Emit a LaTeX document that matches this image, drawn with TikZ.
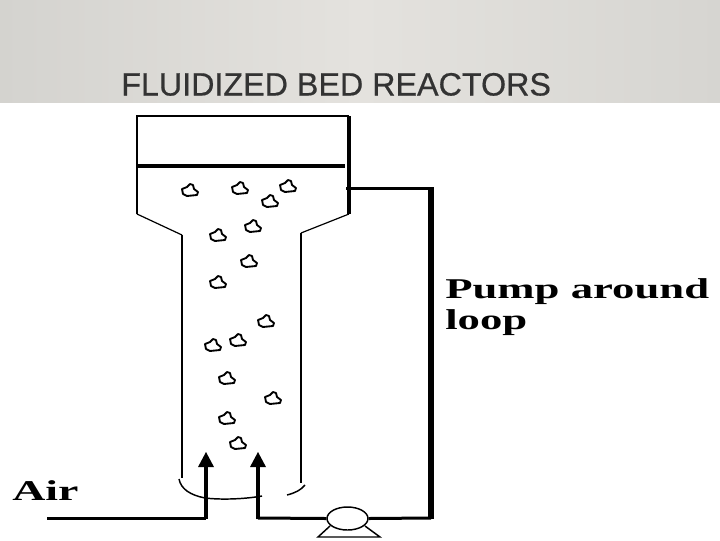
\documentclass[tikz,border=0pt]{standalone}
\usepackage{fontspec}
\setmainfont{Liberation Serif}
\newfontfamily\headfont[FakeBold=0.5]{Liberation Sans}
\usetikzlibrary{shapes.geometric}
\definecolor{bandL}{HTML}{D4D3CF}
\definecolor{bandM}{HTML}{E4E2DE}
\definecolor{bandR}{HTML}{D6D5D1}
\definecolor{headtxt}{HTML}{333333}
\tikzset{
  wall/.style={line width=2pt,line join=miter},
  thinwall/.style={line width=1.1pt},
  pipe/.style={line width=2.25pt,line join=miter},
  fatpipe/.style={line width=3.5pt},
  blob/.style={line width=1.4pt,line join=round},
  serifbold/.style={font=\bfseries,inner sep=0pt,anchor=base west},
  pumpbody/.style={draw,ellipse,line width=1.1pt,inner sep=0pt,minimum width=30.75pt,minimum height=17.25pt},
  pics/particle/.style={code={
    \draw[blob] (-8,-1) -- (-3,-3) -- (0,-6) -- (3,-5) -- (4,-1) -- (8,2) -- (7,5) -- (-3,6) -- (-7,4) -- cycle;
  }}
}
\begin{document}
\begin{tikzpicture}[x=0.75pt,y=-0.75pt]
\useasboundingbox (0,0) rectangle (720,540);
\fill[white] (0,0) rectangle (720,540);
\shade[left color=bandL,right color=bandR,middle color=bandM] (0,0) rectangle (720,102);
\node[font=\headfont,text=headtxt,anchor=base west,inner sep=0pt] (title) at (121,95.5)
  {\fontsize{24.2pt}{28pt}\selectfont FLUIDIZED BED REACTORS};

% named points of the vessel
\coordinate (tl) at (137,116);
\coordinate (tr) at (349,116);
\coordinate (sl) at (137,214);
\coordinate (sr) at (349,214);
\coordinate (cl) at (182,235);
\coordinate (cr) at (301,233);
\coordinate (bl) at (182,478);
\coordinate (br) at (301,483);
\coordinate (levl) at (137,166);
\coordinate (levr) at (345,166);

\draw[wall] (sl) -- (tl) -- (tr);
\draw[line width=2.5pt] (tr) -- (sr);
\draw[line width=3pt] (levl) -- (levr);
\draw[line width=0.9pt] (sl) -- (cl);
\draw[thinwall] (cl) -- (bl);
\draw[line width=0.9pt] (sr) -- (cr);
\draw[wall] (cr) -- (br);
\draw[thinwall] (179,479) .. controls (181,489) and (190,495) .. (205,498) .. controls (222,500) and (245,499) .. (262,496);
\draw[thinwall] (287,495) .. controls (295,493) and (301,490) .. (305,485);

% particles
\foreach \px/\py in {190/190,240/188,288/186,270/201,253/226,218/235,249/261,218/282,266/321,238/340,213/345,227/378,273/398,227/418,238/443}
  \pic at (\px,\py) {particle};

% air and recirculation lines
\coordinate (airin) at (47,518);
\coordinate (j1) at (206,518);
\coordinate (t1) at (206,460);
\coordinate (j2) at (258,518);
\coordinate (t2) at (258,460);
\node[pumpbody] (pump) at (347.5,518.5) {};
\coordinate (cn) at (431,518);
\coordinate (cu) at (431,188);
\coordinate (st) at (346,188);

\draw[pipe] (airin) -- (j1);
\draw[fatpipe] ([yshift=-1.1pt]j1) -- (t1);
\draw[fatpipe] ([yshift=-1.1pt]j2) -- (t2);
\draw[pipe] (j2) -- (pump.west);
\draw[pipe] (pump.east) -- (cn);
\draw[line width=4.5pt] ([yshift=-1.1pt]cn) -- ([yshift=1.1pt]cu);
\draw[pipe] (cu) -- (st);
\foreach \t in {t1,t2}
  \fill ([yshift=6pt]\t) -- ++(8,15) -- ++(-16,0) -- cycle;

% pump feet
\draw[line width=1.1pt] (330,526) -- (318,537) -- (380,537) -- (365,526);

% labels
\node[serifbold] (pumplabel) at (445,298) {\fontsize{21.5pt}{22pt}\selectfont\scalebox{1.56}[1]{Pump around}};
\node[serifbold] (looplabel) at (445,329) {\fontsize{21.5pt}{22pt}\selectfont\scalebox{1.56}[1]{loop}};
\node[serifbold] (airlabel) at (12,500) {\fontsize{21.5pt}{22pt}\selectfont\scalebox{1.6}[1]{Air}};
\end{tikzpicture}
\end{document}
